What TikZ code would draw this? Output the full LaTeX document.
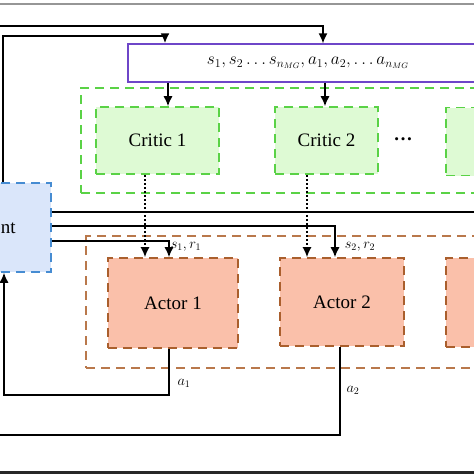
\documentclass[tikz,border=0pt]{standalone}
\usepackage{fontspec}
\setmainfont{Liberation Serif}
\definecolor{BufferPurple}{RGB}{110,70,200}
\definecolor{CriticGreen}{RGB}{90,210,70}
\definecolor{CriticFill}{RGB}{222,250,212}
\definecolor{EnvBlue}{RGB}{70,140,210}
\definecolor{EnvFill}{RGB}{218,230,250}
\definecolor{ActorBrown}{RGB}{170,95,45}
\definecolor{ActorFill}{RGB}{250,192,170}
\definecolor{GroupBrown}{RGB}{185,120,75}
\definecolor{FrameGray}{RGB}{150,150,150}
\definecolor{FrameDark}{RGB}{40,40,40}
\usepackage{tikz}
\usetikzlibrary{positioning,arrows.meta}
\tikzset{>={Latex[length=10pt,width=9pt]}}
\tikzset{
  panel/.style={rectangle,draw=#1,line width=1.6pt,dash pattern=on 9pt off 6pt,inner sep=0pt},
  flow/.style={->,line width=1.3pt},
  hint/.style={->,line width=1.5pt,dash pattern=on 2pt off 2pt},
  lbl/.style={font=\fontsize{14}{16}\selectfont,inner sep=1pt}
}

\begin{document}
\begin{tikzpicture}[x=1pt,y=-1pt,font=\fontsize{19}{22}\selectfont]
        \useasboundingbox (0,0) rectangle (474,474);
        \clip (0,0) rectangle (474,474);
        % frame lines
        \draw[FrameGray,line width=1.5pt] (0,4) -- (474,4);
        \draw[FrameDark,line width=3pt] (0,472.5) -- (474,472.5);
        % replay buffer
        \node[rectangle,draw=BufferPurple,line width=1.3pt,minimum width=360pt,minimum height=38pt,
              font=\fontsize{17}{20}\selectfont] (buffer) at (308,63)
              {$s_1, s_2 \ldots s_{n_{MG}}, a_1, a_2, \ldots a_{n_{MG}}$};
        % critics
        \node[panel=CriticGreen,minimum width=454pt,minimum height=105pt] (critics) at (308,140.5) {};
        \node[panel=CriticGreen,fill=CriticFill,minimum width=123pt,minimum height=67pt] (critic1) at (157.5,140.5) {Critic 1};
        \node[panel=CriticGreen,fill=CriticFill,minimum width=103pt,minimum height=67pt] (critic2) at (326.5,140.5) {Critic 2};
        \node[panel=CriticGreen,fill=CriticFill,minimum width=103pt,minimum height=68pt] (critic3) at (497.5,141.5) {};
        \node (dots) at (403,139) {\bfseries\ldots};
        % environment
        \node[panel=EnvBlue,fill=EnvFill,minimum width=170pt,minimum height=89pt] (env) at (-34,227.5) {Environment};
        % actors
        \node[panel=GroupBrown,minimum width=454pt,minimum height=132pt] (actors) at (313,302) {};
        \node[panel=ActorBrown,fill=ActorFill,minimum width=130pt,minimum height=90pt] (actor1) at (173,303) {Actor 1};
        \node[panel=ActorBrown,fill=ActorFill,minimum width=124pt,minimum height=88pt] (actor2) at (342,302) {Actor 2};
        \node[panel=ActorBrown,fill=ActorFill,minimum width=124pt,minimum height=89pt] (actor3) at (508,302.5) {};
        % corner points
        \coordinate (loopA) at (3,36);
        \coordinate (feedA) at (165,36);
        \coordinate (loopB) at (-20,26);
        \coordinate (feedB) at (323,26);
        \coordinate (dropA) at (169,395);
        \coordinate (retA) at (4,395);
        \coordinate (dropB) at (340,435);
        \coordinate (obs1) at (169,241);
        \coordinate (obs2) at (335,226);
        \coordinate (obs3) at (490,212);
        \coordinate (in1) at (168,90);
        \coordinate (in2) at (325,90);
        \coordinate (q1) at (145,200);
        \coordinate (q2) at (307,200);
        % connectors
        \draw[flow,line width=2pt] (env.north -| loopA) -- (loopA) -- (feedA) -- (feedA |- buffer.north);
        \draw[flow] (actor2.south -| dropB) -- (dropB) -- (dropB -| loopB) -- (loopB) -- (feedB) -- (feedB |- buffer.north);
        \draw[flow] (actor1.south -| dropA) -- (dropA) -- (retA) -- (retA |- env.south);
        \draw[flow] (buffer.south -| in1) -- (critic1.north -| in1);
        \draw[flow] (buffer.south -| in2) -- (critic2.north -| in2);
        \draw[hint] (critic1.south -| q1) -- (actor1.north -| q1);
        \draw[hint] (critic2.south -| q2) -- (actor2.north -| q2);
        \draw[flow] (env.east |- obs3) -- (obs3) -- (obs3 |- actor3.north);
        \draw[flow] (env.east |- obs2) -- (obs2) -- (obs2 |- actor2.north);
        \draw[flow] (env.east |- obs1) -- (obs1) -- (obs1 |- actor1.north);
        % labels
        \node[lbl] (sr1) at (186,247) {$s_1, r_1$};
        \node[lbl] (sr2) at (360,247) {$s_2, r_2$};
        \node[lbl] (act1) at (184,383) {$a_1$};
        \node[lbl] (act2) at (353,390) {$a_2$};
    \end{tikzpicture}
\end{document}
